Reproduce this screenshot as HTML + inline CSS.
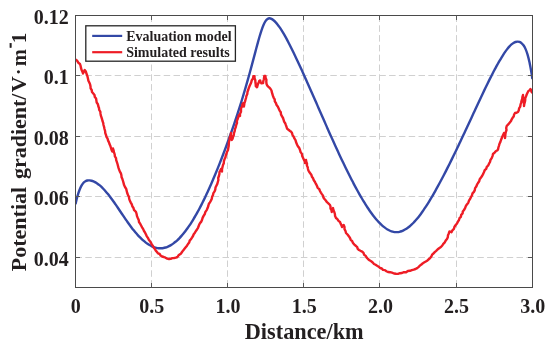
<!DOCTYPE html>
<html><head><meta charset="utf-8"><title>Potential gradient</title>
<style>
html,body{margin:0;padding:0;background:#fff;}
body{width:550px;height:349px;overflow:hidden;}
svg{display:block;}
text{font-family:"Liberation Serif","Times New Roman",serif;font-weight:bold;fill:#231f20;}
.tk{font-size:20px;}
.ax{font-size:22.3px;}
.ay{font-size:22px;}
.lg{font-size:14px;}
</style></head><body>
<svg width="550" height="349" viewBox="0 0 550 349">
<defs><clipPath id="pc"><rect x="75.5" y="15.5" width="457.5" height="272"/></clipPath></defs>
<rect width="550" height="349" fill="#fff"/>
<g stroke="#d0d0d0" stroke-width="1" stroke-dasharray="6.5 3.3" fill="none">
<line x1="151.50" y1="15.50" x2="151.50" y2="287.50"/>
<line x1="227.50" y1="15.50" x2="227.50" y2="287.50"/>
<line x1="303.50" y1="15.50" x2="303.50" y2="287.50"/>
<line x1="379.50" y1="15.50" x2="379.50" y2="287.50"/>
<line x1="456.50" y1="15.50" x2="456.50" y2="287.50"/>
<line x1="75.50" y1="257.50" x2="532.50" y2="257.50"/>
<line x1="75.50" y1="196.50" x2="532.50" y2="196.50"/>
<line x1="75.50" y1="136.50" x2="532.50" y2="136.50"/>
<line x1="75.50" y1="75.50" x2="532.50" y2="75.50"/>
</g>
<path d="M75.50 204.14 C75.83 202.79 76.83 198.40 77.50 196.04 C78.17 193.67 78.83 191.69 79.50 189.96 C80.17 188.23 80.83 186.84 81.50 185.65 C82.17 184.46 82.83 183.56 83.50 182.81 C84.17 182.07 84.83 181.57 85.50 181.18 C86.17 180.78 86.83 180.59 87.50 180.46 C88.17 180.33 88.83 180.35 89.50 180.40 C90.17 180.44 90.83 180.57 91.50 180.74 C92.17 180.90 92.83 181.13 93.50 181.41 C94.17 181.68 94.83 182.01 95.50 182.39 C96.17 182.77 96.83 183.19 97.50 183.66 C98.17 184.13 98.83 184.64 99.50 185.20 C100.17 185.75 100.83 186.35 101.50 186.98 C102.17 187.61 102.83 188.28 103.50 188.98 C104.17 189.68 104.83 190.41 105.50 191.18 C106.17 191.94 106.83 192.74 107.50 193.55 C108.17 194.37 108.83 195.22 109.50 196.09 C110.17 196.95 110.83 197.84 111.50 198.75 C112.17 199.65 112.83 200.58 113.50 201.52 C114.17 202.46 114.83 203.42 115.50 204.38 C116.17 205.34 116.83 206.32 117.50 207.30 C118.17 208.28 118.83 209.27 119.50 210.26 C120.17 211.25 120.83 212.24 121.50 213.23 C122.17 214.22 122.83 215.21 123.50 216.19 C124.17 217.18 124.83 218.16 125.50 219.13 C126.17 220.09 126.83 221.06 127.50 222.00 C128.17 222.95 128.83 223.88 129.50 224.80 C130.17 225.71 130.83 226.61 131.50 227.49 C132.17 228.36 132.83 229.22 133.50 230.05 C134.17 230.89 134.83 231.70 135.50 232.49 C136.17 233.27 136.83 234.04 137.50 234.78 C138.17 235.51 138.83 236.23 139.50 236.92 C140.17 237.60 140.83 238.26 141.50 238.90 C142.17 239.53 142.83 240.13 143.50 240.71 C144.17 241.29 144.83 241.83 145.50 242.35 C146.17 242.87 146.83 243.35 147.50 243.81 C148.17 244.26 148.83 244.69 149.50 245.08 C150.17 245.47 150.83 245.83 151.50 246.15 C152.17 246.47 152.83 246.76 153.50 247.02 C154.17 247.27 154.83 247.49 155.50 247.67 C156.17 247.85 156.83 247.99 157.50 248.10 C158.17 248.20 158.83 248.27 159.50 248.30 C160.17 248.33 160.83 248.32 161.50 248.27 C162.17 248.22 162.83 248.13 163.50 248.01 C164.17 247.88 164.83 247.71 165.50 247.51 C166.17 247.31 166.83 247.07 167.50 246.80 C168.17 246.52 168.83 246.21 169.50 245.86 C170.17 245.51 170.83 245.13 171.50 244.71 C172.17 244.29 172.83 243.84 173.50 243.35 C174.17 242.86 174.83 242.34 175.50 241.78 C176.17 241.23 176.83 240.64 177.50 240.01 C178.17 239.39 178.83 238.73 179.50 238.05 C180.17 237.36 180.83 236.64 181.50 235.88 C182.17 235.13 182.83 234.35 183.50 233.54 C184.17 232.72 184.83 231.88 185.50 231.00 C186.17 230.13 186.83 229.22 187.50 228.29 C188.17 227.35 188.83 226.39 189.50 225.40 C190.17 224.40 190.83 223.38 191.50 222.33 C192.17 221.28 192.83 220.21 193.50 219.10 C194.17 218.00 194.83 216.87 195.50 215.71 C196.17 214.55 196.83 213.37 197.50 212.16 C198.17 210.95 198.83 209.71 199.50 208.45 C200.17 207.19 200.83 205.91 201.50 204.60 C202.17 203.29 202.83 201.95 203.50 200.60 C204.17 199.24 204.83 197.86 205.50 196.45 C206.17 195.05 206.83 193.62 207.50 192.17 C208.17 190.73 208.83 189.25 209.50 187.76 C210.17 186.27 210.83 184.75 211.50 183.22 C212.17 181.69 212.83 180.13 213.50 178.56 C214.17 176.98 214.83 175.39 215.50 173.77 C216.17 172.16 216.83 170.52 217.50 168.87 C218.17 167.22 218.83 165.55 219.50 163.86 C220.17 162.17 220.83 160.47 221.50 158.74 C222.17 157.02 222.83 155.28 223.50 153.52 C224.17 151.77 224.83 149.99 225.50 148.21 C226.17 146.42 226.83 144.61 227.50 142.79 C228.17 140.97 228.83 139.13 229.50 137.27 C230.17 135.40 230.83 133.52 231.50 131.62 C232.17 129.72 232.83 127.80 233.50 125.85 C234.17 123.90 234.83 121.93 235.50 119.94 C236.17 117.94 236.83 115.92 237.50 113.87 C238.17 111.83 238.83 109.75 239.50 107.65 C240.17 105.55 240.83 103.41 241.50 101.25 C242.17 99.09 242.83 96.90 243.50 94.67 C244.17 92.45 244.83 90.19 245.50 87.90 C246.17 85.61 246.83 83.28 247.50 80.92 C248.17 78.56 248.83 76.16 249.50 73.74 C250.17 71.31 250.83 68.85 251.50 66.38 C252.17 63.91 252.83 61.41 253.50 58.91 C254.17 56.41 254.83 53.90 255.50 51.40 C256.17 48.90 256.83 46.36 257.50 43.92 C258.17 41.49 258.83 39.04 259.50 36.77 C260.17 34.50 260.83 32.29 261.50 30.32 C262.17 28.35 262.83 26.50 263.50 24.96 C264.17 23.41 264.83 22.07 265.50 21.06 C266.17 20.06 266.83 19.38 267.50 18.92 C268.17 18.46 268.83 18.32 269.50 18.31 C270.17 18.30 270.83 18.54 271.50 18.87 C272.17 19.19 272.83 19.69 273.50 20.24 C274.17 20.78 274.83 21.42 275.50 22.12 C276.17 22.81 276.83 23.59 277.50 24.42 C278.17 25.24 278.83 26.14 279.50 27.09 C280.17 28.04 280.83 29.05 281.50 30.10 C282.17 31.15 282.83 32.25 283.50 33.39 C284.17 34.53 284.83 35.71 285.50 36.92 C286.17 38.13 286.83 39.38 287.50 40.65 C288.17 41.91 288.83 43.21 289.50 44.52 C290.17 45.83 290.83 47.16 291.50 48.51 C292.17 49.85 292.83 51.21 293.50 52.58 C294.17 53.95 294.83 55.33 295.50 56.73 C296.17 58.13 296.83 59.53 297.50 60.95 C298.17 62.37 298.83 63.81 299.50 65.25 C300.17 66.69 300.83 68.14 301.50 69.60 C302.17 71.05 302.83 72.52 303.50 74.00 C304.17 75.47 304.83 76.95 305.50 78.44 C306.17 79.93 306.83 81.42 307.50 82.92 C308.17 84.42 308.83 85.93 309.50 87.43 C310.17 88.94 310.83 90.45 311.50 91.96 C312.17 93.48 312.83 95.00 313.50 96.51 C314.17 98.03 314.83 99.55 315.50 101.07 C316.17 102.59 316.83 104.12 317.50 105.64 C318.17 107.16 318.83 108.69 319.50 110.21 C320.17 111.73 320.83 113.25 321.50 114.77 C322.17 116.29 322.83 117.81 323.50 119.33 C324.17 120.84 324.83 122.36 325.50 123.87 C326.17 125.38 326.83 126.89 327.50 128.40 C328.17 129.90 328.83 131.40 329.50 132.90 C330.17 134.39 330.83 135.88 331.50 137.37 C332.17 138.86 332.83 140.34 333.50 141.81 C334.17 143.28 334.83 144.75 335.50 146.21 C336.17 147.67 336.83 149.13 337.50 150.57 C338.17 152.02 338.83 153.46 339.50 154.89 C340.17 156.31 340.83 157.73 341.50 159.14 C342.17 160.55 342.83 161.96 343.50 163.35 C344.17 164.74 344.83 166.12 345.50 167.49 C346.17 168.85 346.83 170.21 347.50 171.56 C348.17 172.90 348.83 174.24 349.50 175.56 C350.17 176.88 350.83 178.19 351.50 179.48 C352.17 180.77 352.83 182.06 353.50 183.32 C354.17 184.59 354.83 185.84 355.50 187.07 C356.17 188.31 356.83 189.53 357.50 190.74 C358.17 191.94 358.83 193.13 359.50 194.30 C360.17 195.47 360.83 196.63 361.50 197.76 C362.17 198.90 362.83 200.02 363.50 201.12 C364.17 202.22 364.83 203.30 365.50 204.36 C366.17 205.42 366.83 206.46 367.50 207.47 C368.17 208.49 368.83 209.48 369.50 210.45 C370.17 211.42 370.83 212.36 371.50 213.28 C372.17 214.20 372.83 215.09 373.50 215.95 C374.17 216.82 374.83 217.65 375.50 218.46 C376.17 219.27 376.83 220.05 377.50 220.79 C378.17 221.54 378.83 222.25 379.50 222.93 C380.17 223.62 380.83 224.27 381.50 224.88 C382.17 225.49 382.83 226.07 383.50 226.62 C384.17 227.16 384.83 227.67 385.50 228.13 C386.17 228.60 386.83 229.03 387.50 229.42 C388.17 229.81 388.83 230.17 389.50 230.48 C390.17 230.79 390.83 231.05 391.50 231.28 C392.17 231.50 392.83 231.69 393.50 231.82 C394.17 231.96 394.83 232.05 395.50 232.09 C396.17 232.14 396.83 232.14 397.50 232.09 C398.17 232.04 398.83 231.94 399.50 231.80 C400.17 231.66 400.83 231.47 401.50 231.24 C402.17 231.00 402.83 230.73 403.50 230.41 C404.17 230.09 404.83 229.73 405.50 229.33 C406.17 228.93 406.83 228.49 407.50 228.02 C408.17 227.54 408.83 227.02 409.50 226.47 C410.17 225.92 410.83 225.33 411.50 224.70 C412.17 224.08 412.83 223.42 413.50 222.73 C414.17 222.04 414.83 221.32 415.50 220.56 C416.17 219.81 416.83 219.02 417.50 218.21 C418.17 217.40 418.83 216.55 419.50 215.68 C420.17 214.81 420.83 213.92 421.50 212.99 C422.17 212.07 422.83 211.12 423.50 210.15 C424.17 209.18 424.83 208.19 425.50 207.17 C426.17 206.16 426.83 205.12 427.50 204.06 C428.17 203.00 428.83 201.93 429.50 200.83 C430.17 199.74 430.83 198.62 431.50 197.49 C432.17 196.37 432.83 195.22 433.50 194.06 C434.17 192.90 434.83 191.73 435.50 190.54 C436.17 189.36 436.83 188.16 437.50 186.94 C438.17 185.73 438.83 184.51 439.50 183.27 C440.17 182.04 440.83 180.79 441.50 179.53 C442.17 178.27 442.83 177.00 443.50 175.72 C444.17 174.44 444.83 173.14 445.50 171.84 C446.17 170.54 446.83 169.23 447.50 167.91 C448.17 166.59 448.83 165.26 449.50 163.92 C450.17 162.59 450.83 161.24 451.50 159.89 C452.17 158.53 452.83 157.17 453.50 155.80 C454.17 154.44 454.83 153.06 455.50 151.68 C456.17 150.30 456.83 148.91 457.50 147.52 C458.17 146.12 458.83 144.72 459.50 143.32 C460.17 141.91 460.83 140.50 461.50 139.09 C462.17 137.68 462.83 136.26 463.50 134.84 C464.17 133.42 464.83 131.99 465.50 130.57 C466.17 129.14 466.83 127.71 467.50 126.27 C468.17 124.84 468.83 123.41 469.50 121.97 C470.17 120.53 470.83 119.09 471.50 117.66 C472.17 116.22 472.83 114.78 473.50 113.34 C474.17 111.90 474.83 110.46 475.50 109.02 C476.17 107.58 476.83 106.14 477.50 104.71 C478.17 103.27 478.83 101.84 479.50 100.42 C480.17 98.99 480.83 97.57 481.50 96.16 C482.17 94.74 482.83 93.33 483.50 91.93 C484.17 90.54 484.83 89.14 485.50 87.76 C486.17 86.38 486.83 85.01 487.50 83.66 C488.17 82.30 488.83 80.95 489.50 79.62 C490.17 78.29 490.83 76.97 491.50 75.67 C492.17 74.37 492.83 73.08 493.50 71.81 C494.17 70.55 494.83 69.29 495.50 68.06 C496.17 66.83 496.83 65.62 497.50 64.43 C498.17 63.24 498.83 62.06 499.50 60.92 C500.17 59.77 500.83 58.64 501.50 57.55 C502.17 56.45 502.83 55.38 503.50 54.35 C504.17 53.32 504.83 52.32 505.50 51.38 C506.17 50.44 506.83 49.53 507.50 48.70 C508.17 47.86 508.83 47.07 509.50 46.36 C510.17 45.65 510.83 44.99 511.50 44.42 C512.17 43.85 512.83 43.35 513.50 42.95 C514.17 42.54 514.83 42.21 515.50 41.99 C516.17 41.77 516.83 41.64 517.50 41.63 C518.17 41.63 518.83 41.73 519.50 41.98 C520.17 42.22 520.83 42.56 521.50 43.11 C522.17 43.66 522.83 44.30 523.50 45.26 C524.17 46.22 524.83 47.35 525.50 48.87 C526.17 50.39 526.83 52.16 527.50 54.40 C528.17 56.65 528.83 59.21 529.50 62.33 C530.17 65.45 531.02 70.33 531.50 73.11 C531.98 75.89 532.25 78.03 532.40 79.02" fill="none" stroke="#3348a6" stroke-width="2.4" clip-path="url(#pc)" stroke-linejoin="round" stroke-linecap="butt"/>
<path d="M75.4 59.5 L77.2 60.8 L78.3 62.7 L80.0 64.0 L80.6 65.9 L81.0 67.9 L81.5 69.8 L82.4 71.6 L83.0 73.5 L83.9 71.8 L84.7 70.0 L85.8 71.5 L86.4 73.3 L87.0 75.0 L87.6 76.9 L88.0 78.8 L88.4 80.7 L89.3 82.5 L90.1 84.4 L90.5 86.3 L90.6 88.3 L91.7 90.0 L92.0 92.0 L93.3 93.5 L94.5 95.0 L94.8 97.0 L96.1 98.6 L96.4 100.6 L96.7 102.5 L97.9 104.2 L98.3 106.2 L99.0 108.0 L99.2 109.9 L100.3 111.6 L100.5 113.5 L100.8 115.4 L101.4 117.2 L102.0 119.0 L102.5 121.0 L103.2 122.9 L103.5 125.0 L104.1 127.0 L104.5 129.0 L105.1 131.0 L105.3 133.1 L106.0 135.0 L106.5 136.9 L107.6 138.7 L108.1 140.6 L109.0 142.4 L109.6 144.3 L110.4 146.1 L111.0 148.0 L111.5 149.8 L112.3 151.5 L112.6 150.0 L113.0 148.5 L113.6 150.4 L114.0 152.4 L114.7 154.3 L114.9 156.4 L116.0 158.2 L116.2 160.2 L116.9 162.1 L117.5 164.0 L118.0 166.0 L118.5 167.9 L119.2 169.8 L119.9 171.6 L120.9 173.4 L121.4 175.3 L121.6 177.3 L122.4 179.1 L123.0 181.0 L123.6 183.1 L124.1 185.1 L125.0 187.0 L126.2 188.9 L126.7 191.0 L127.2 193.0 L128.0 195.0 L128.9 196.8 L129.2 198.9 L129.9 200.8 L130.8 202.6 L131.8 204.4 L132.3 206.3 L133.5 208.0 L134.0 210.0 L135.1 210.9 L136.0 212.0 L136.6 214.0 L137.0 216.1 L137.8 218.0 L138.7 219.9 L139.0 222.0 L140.1 223.7 L141.1 225.5 L142.1 227.3 L143.2 229.1 L144.0 231.0 L145.1 232.7 L146.0 234.5 L146.8 236.4 L148.0 238.0 L148.8 239.7 L150.0 241.2 L151.0 242.8 L151.8 244.5 L153.0 246.0 L153.8 247.7 L154.9 249.1 L155.8 250.6 L157.0 252.0 L158.0 253.4 L159.7 254.0 L160.6 255.6 L162.0 256.5 L163.8 257.0 L165.5 257.7 L167.2 258.6 L169.0 259.0 L170.7 258.8 L172.3 258.1 L174.0 258.0 L175.8 257.6 L177.5 257.0 L178.4 255.5 L179.7 254.4 L181.1 253.4 L182.0 252.0 L183.2 250.4 L184.5 248.8 L185.7 247.3 L187.0 245.7 L188.0 244.0 L189.2 242.5 L189.7 240.6 L190.9 239.2 L192.0 237.6 L193.0 236.0 L193.7 234.2 L194.9 232.7 L195.9 231.0 L197.0 229.5 L198.0 227.8 L198.7 226.0 L199.3 224.4 L200.2 222.9 L201.3 221.6 L202.0 220.0 L202.6 217.9 L203.6 215.9 L204.8 214.0 L205.4 211.9 L206.7 210.1 L207.6 208.1 L208.3 206.0 L208.8 204.0 L209.9 202.3 L210.9 200.6 L211.8 198.8 L212.1 196.8 L213.0 195.0 L213.4 193.1 L214.6 191.4 L215.3 189.5 L215.5 187.5 L216.4 185.7 L217.3 183.9 L217.8 182.0 L218.4 180.0 L218.2 178.0 L218.9 176.0 L219.4 174.0 L219.5 172.0 L220.3 170.5 L221.0 169.0 L221.7 170.2 L222.0 171.5 L222.0 169.3 L222.5 167.1 L223.0 165.0 L223.8 163.2 L223.9 161.1 L224.5 159.3 L225.4 157.5 L225.8 155.5 L226.5 153.7 L227.0 151.8 L228.0 150.0 L228.3 148.0 L228.7 146.0 L228.8 144.0 L228.9 142.0 L229.5 140.0 L229.7 138.2 L230.3 136.5 L231.0 134.8 L231.0 133.0 L230.8 134.8 L231.6 136.5 L232.0 138.2 L231.8 140.0 L232.6 138.6 L233.0 137.0 L233.8 135.1 L234.0 133.0 L234.7 131.1 L235.0 129.0 L235.8 127.1 L236.2 125.0 L237.0 123.1 L236.9 120.9 L237.7 119.0 L238.3 117.0 L239.0 115.0 L240.0 116.0 L240.0 113.8 L241.0 111.7 L241.0 109.5 L241.2 107.8 L242.2 106.3 L242.3 104.5 L243.2 103.0 L243.7 104.7 L243.9 106.5 L244.2 104.9 L244.4 103.2 L245.0 101.6 L245.4 100.0 L246.0 98.0 L246.4 95.9 L247.3 93.9 L247.5 91.8 L248.3 89.8 L248.8 87.9 L249.6 86.1 L250.4 84.3 L251.2 82.5 L251.7 80.4 L253.0 78.5 L253.4 76.3 L254.5 76.3 L254.5 78.3 L255.3 80.2 L255.4 82.2 L255.7 84.2 L255.8 86.2 L257.0 87.3 L257.5 85.7 L257.9 84.1 L258.7 82.6 L259.2 81.0 L260.2 80.4 L260.5 82.0 L261.4 83.3 L263.1 83.0 L263.3 81.2 L263.8 79.5 L264.1 77.8 L264.3 76.0 L265.4 76.0 L265.6 77.9 L266.4 79.7 L266.3 81.7 L266.5 83.7 L267.2 85.5 L268.2 86.6 L269.4 87.6 L270.6 89.0 L271.5 90.5 L271.9 92.4 L272.4 94.2 L273.0 96.0 L273.7 97.8 L274.7 99.4 L274.8 101.4 L275.9 103.0 L276.6 105.1 L277.9 106.8 L278.8 108.7 L279.6 110.6 L280.8 112.3 L281.0 114.4 L281.9 116.2 L283.0 118.0 L283.6 119.8 L284.1 121.6 L285.2 123.2 L285.8 124.9 L286.5 126.7 L287.0 128.5 L288.5 129.8 L290.0 131.0 L291.2 131.8 L292.0 133.0 L292.5 134.9 L293.6 136.6 L294.4 138.4 L295.5 140.1 L296.0 142.0 L296.7 143.7 L297.4 145.3 L298.3 146.8 L299.4 148.3 L300.0 150.0 L300.6 152.1 L301.9 153.9 L302.2 156.1 L303.1 158.0 L304.0 160.0 L304.7 161.4 L305.0 163.0 L305.5 161.5 L306.0 160.0 L306.3 161.8 L307.0 163.6 L306.9 165.5 L307.7 167.2 L308.0 169.0 L308.4 170.5 L309.1 171.8 L310.0 173.0 L311.3 174.7 L311.9 176.7 L313.1 178.3 L313.8 180.3 L315.0 182.0 L315.6 183.3 L316.4 184.7 L317.0 186.0 L317.7 187.8 L319.3 189.2 L320.0 191.0 L320.9 192.6 L321.9 194.1 L323.0 195.6 L323.4 197.5 L324.5 199.0 L325.8 200.5 L327.0 202.2 L328.6 203.6 L330.0 205.0 L330.5 206.7 L330.5 208.6 L331.6 210.2 L331.7 212.0 L332.0 209.9 L333.0 208.0 L333.4 210.1 L334.3 212.0 L334.9 214.0 L335.1 216.1 L336.0 218.0 L337.4 219.2 L338.5 220.9 L340.0 222.0 L340.6 223.7 L341.5 225.3 L342.0 227.0 L342.6 225.8 L343.7 225.0 L344.5 226.9 L344.5 229.1 L345.5 231.0 L346.0 233.0 L347.5 234.5 L348.8 236.2 L350.0 238.0 L350.7 239.8 L352.2 241.2 L353.0 243.0 L354.4 244.6 L356.0 246.0 L357.2 247.2 L357.7 248.9 L359.0 250.0 L360.5 250.8 L362.0 251.5 L363.5 252.8 L364.1 254.7 L365.7 255.9 L366.7 257.6 L368.0 259.0 L369.5 260.3 L371.2 261.3 L372.7 262.5 L374.0 264.0 L375.6 264.8 L377.1 265.8 L378.7 266.7 L380.0 268.0 L381.8 268.5 L383.0 269.9 L384.9 270.1 L386.4 271.2 L388.0 272.0 L390.1 272.2 L392.0 272.7 L394.0 273.5 L396.0 273.8 L398.0 273.9 L400.0 273.2 L402.0 273.0 L403.9 272.1 L406.1 272.3 L407.9 271.0 L410.0 270.8 L411.8 270.1 L413.7 269.6 L415.5 269.0 L417.2 268.1 L418.7 266.9 L420.0 265.5 L421.4 264.6 L422.6 263.4 L424.0 262.5 L425.8 261.5 L427.5 260.4 L429.0 259.0 L430.3 257.8 L431.4 256.4 L432.1 254.7 L433.5 253.5 L434.7 252.1 L436.2 250.8 L437.5 249.5 L439.1 248.2 L440.9 247.0 L442.3 245.5 L443.3 243.8 L444.8 242.3 L445.7 240.6 L447.0 239.0 L447.8 237.2 L448.0 235.2 L448.8 233.4 L449.4 231.5 L450.5 231.6 L451.5 232.2 L452.4 230.3 L453.9 228.8 L454.5 226.7 L455.7 225.0 L457.0 223.5 L457.9 221.7 L459.0 220.0 L459.5 218.2 L460.9 216.8 L461.2 214.8 L462.6 213.4 L462.8 211.5 L464.0 210.0 L465.1 208.2 L465.8 206.2 L466.9 204.4 L468.3 202.7 L469.0 200.7 L470.1 198.9 L471.0 197.0 L472.0 195.3 L472.5 193.4 L473.9 191.9 L474.8 190.1 L475.1 188.1 L476.3 186.5 L477.0 184.7 L478.0 183.0 L479.2 181.3 L479.7 179.2 L481.0 177.5 L482.2 175.8 L483.2 173.9 L484.0 172.0 L484.7 170.2 L486.2 168.8 L486.8 166.9 L488.2 165.5 L489.0 163.7 L490.0 162.0 L490.5 159.9 L491.7 158.1 L492.5 156.1 L493.0 154.0 L494.6 152.6 L496.0 151.0 L497.2 150.5 L498.0 149.5 L498.4 147.5 L499.0 145.6 L499.5 143.7 L500.4 141.9 L501.0 140.0 L501.7 138.2 L502.4 136.5 L503.2 134.7 L504.0 133.0 L504.5 134.6 L505.0 136.3 L505.0 138.0 L505.3 136.0 L505.4 134.0 L505.8 132.0 L506.5 130.0 L506.2 128.0 L506.7 126.0 L508.2 124.4 L509.6 122.7 L511.0 121.0 L511.7 119.3 L512.6 117.8 L513.7 116.4 L514.1 114.5 L515.0 113.0 L516.6 112.7 L518.0 112.0 L518.8 110.3 L519.1 108.4 L520.2 106.7 L520.5 104.8 L521.0 103.0 L521.5 101.0 L522.2 99.0 L522.4 97.0 L523.0 95.0 L523.0 96.8 L523.5 98.7 L523.2 100.5 L523.6 102.3 L524.0 104.1 L524.0 106.0 L524.3 104.0 L524.9 102.0 L525.2 100.0 L525.3 98.0 L526.1 96.2 L526.7 94.5 L527.5 92.7 L528.4 91.0 L529.7 90.3 L530.4 89.0 L531.3 90.2 L531.5 91.8 L532.4 93.0" fill="none" stroke="#ee1c25" stroke-width="2.4" clip-path="url(#pc)" stroke-linejoin="round" stroke-linecap="butt"/>
<rect x="75.50" y="15.50" width="457.00" height="272.00" fill="none" stroke="#4a4a4a" stroke-width="1"/>
<g stroke="#585858" stroke-width="1" fill="none">
<line x1="151.50" y1="287.50" x2="151.50" y2="283.00"/>
<line x1="151.50" y1="15.50" x2="151.50" y2="20.00"/>
<line x1="227.50" y1="287.50" x2="227.50" y2="283.00"/>
<line x1="227.50" y1="15.50" x2="227.50" y2="20.00"/>
<line x1="303.50" y1="287.50" x2="303.50" y2="283.00"/>
<line x1="303.50" y1="15.50" x2="303.50" y2="20.00"/>
<line x1="379.50" y1="287.50" x2="379.50" y2="283.00"/>
<line x1="379.50" y1="15.50" x2="379.50" y2="20.00"/>
<line x1="456.50" y1="287.50" x2="456.50" y2="283.00"/>
<line x1="456.50" y1="15.50" x2="456.50" y2="20.00"/>
<line x1="75.50" y1="257.50" x2="80.00" y2="257.50"/>
<line x1="532.50" y1="257.50" x2="528.00" y2="257.50"/>
<line x1="75.50" y1="196.50" x2="80.00" y2="196.50"/>
<line x1="532.50" y1="196.50" x2="528.00" y2="196.50"/>
<line x1="75.50" y1="136.50" x2="80.00" y2="136.50"/>
<line x1="532.50" y1="136.50" x2="528.00" y2="136.50"/>
<line x1="75.50" y1="75.50" x2="80.00" y2="75.50"/>
<line x1="532.50" y1="75.50" x2="528.00" y2="75.50"/>
</g>
<rect x="85.8" y="25.8" width="149.6" height="35.4" fill="#fff" stroke="#262626" stroke-width="1.3"/>
<line x1="92.2" y1="35.9" x2="122.2" y2="35.9" stroke="#3348a6" stroke-width="2.2"/>
<line x1="92.2" y1="52.2" x2="122.2" y2="52.2" stroke="#ee1c25" stroke-width="2.2"/>
<text x="126.2" y="40.6" class="lg">Evaluation model</text>
<text x="126.2" y="57.2" class="lg">Simulated results</text>
<text x="75.70" y="313.1" text-anchor="middle" class="tk">0</text>
<text x="151.87" y="313.1" text-anchor="middle" class="tk">0.5</text>
<text x="228.04" y="313.1" text-anchor="middle" class="tk">1.0</text>
<text x="304.21" y="313.1" text-anchor="middle" class="tk">1.5</text>
<text x="380.38" y="313.1" text-anchor="middle" class="tk">2.0</text>
<text x="456.55" y="313.1" text-anchor="middle" class="tk">2.5</text>
<text x="532.72" y="313.1" text-anchor="middle" class="tk">3.0</text>
<text x="68.8" y="265.60" text-anchor="end" class="tk">0.04</text>
<text x="68.8" y="204.60" text-anchor="end" class="tk">0.06</text>
<text x="68.8" y="144.60" text-anchor="end" class="tk">0.08</text>
<text x="68.8" y="83.60" text-anchor="end" class="tk">0.1</text>
<text x="68.8" y="23.60" text-anchor="end" class="tk">0.12</text>
<text x="304.2" y="339.2" text-anchor="middle" class="ax">Distance/km</text>
<text transform="translate(26.2 271.2) rotate(-90)" class="ay" word-spacing="2.3">Potential gradient/<tspan dx="1.2">V</tspan><tspan font-size="19" dx="1.4" dy="-1">·</tspan><tspan font-size="20.5" dx="2.4" dy="1">m</tspan><tspan font-size="15.5" dx="1.2" dy="-12.2" stroke="#231f20" stroke-width="0.7">-</tspan><tspan font-size="21" dx="-0.4" dy="12.2">1</tspan></text>
</svg>
</body></html>
